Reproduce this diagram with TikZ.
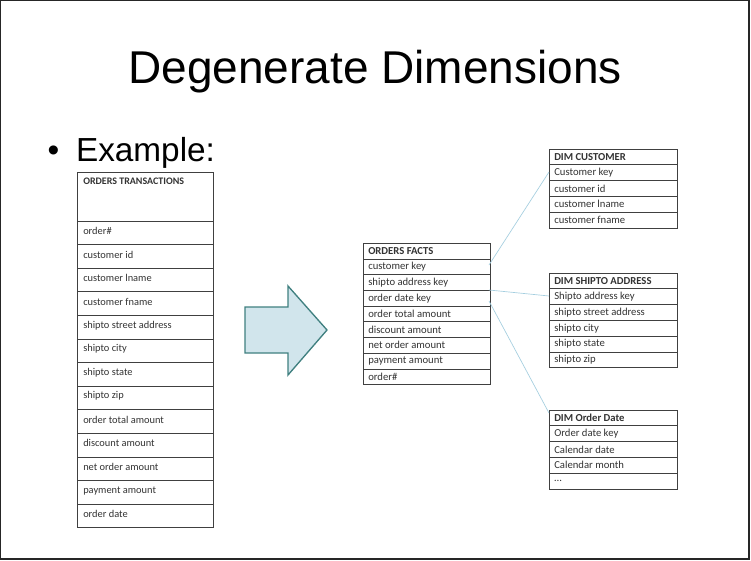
\documentclass[tikz,border=0pt]{standalone}
\usepackage{fontspec}
\setmainfont{Carlito}
\newfontfamily\titlefont{Liberation Sans}
\begin{document}
\begin{tikzpicture}[x=0.75pt,y=-0.75pt,
  cell/.style={draw=black!75,line width=0.6pt},
  txt/.style={anchor=west,inner sep=0pt,font=\fontsize{7.8}{8}\selectfont,text=black!80},
  hdr/.style={txt,font=\fontsize{7.5}{8}\selectfont\bfseries},
  link/.style={draw=cyan!40!teal!40,line width=0.5pt}]
\useasboundingbox (0,0) rectangle (751,561);
\fill[white] (0,0) rectangle (751,561);
\draw[black!85,line width=1.5pt] (0,0) rectangle (749,559);
\node[font=\titlefont\fontsize{34.5}{40}\selectfont] (title) at (375,72) {Degenerate Dimensions};
\node[font=\titlefont\fontsize{25}{28}\selectfont,anchor=west] (ex) at (43,153) {\textbullet\enspace Example:};
% left table
\draw[cell] (77,172) rectangle (213,221);
\node[hdr,anchor=north west] (lh) at (83,178) {ORDERS TRANSACTIONS};
\foreach \t [count=\i from 0] in {order\#,customer id,customer lname,customer fname,shipto street address,shipto city,shipto state,shipto zip,order total amount,discount amount,net order amount,payment amount,order date}{
  \draw[cell] (77,221+\i*23.6) rectangle (213,221+\i*23.6+23.6);
  \node[txt] (l\i) at (83,221+\i*23.6+10) {\t};
}
% facts
\foreach \t [count=\i from 0] in {customer key,shipto address key,order date key,order total amount,discount amount,net order amount,payment amount,order\#}{
  \draw[cell] (363,259+\i*15.7) rectangle (490,259+\i*15.7+15.7);
  \node[txt,font=\fontsize{8}{9}\selectfont] (f\i) at (368,259+\i*15.7+7.8) {\t};
}
\draw[cell] (363,243.3) rectangle (490,259);
\node[hdr,font=\fontsize{8}{9}\selectfont\bfseries] (fh) at (368,251.2) {ORDERS FACTS};
% dims
\def\dimtab#1#2#3#4{%
  \foreach \t [count=\i from 0] in {#3}{
    \draw[cell] (549,#2+\i*15.8) rectangle (677,#2+\i*15.8+15.8);
    \node[txt,font=\fontsize{8}{9}\selectfont] (#1\i) at (554,#2+\i*15.8+7.9) {\t};
  }
  \node[hdr,font=\fontsize{8}{9}\selectfont\bfseries] (#1h) at (554,#2+7.9) {#4};
}
\dimtab{c}{149}{{},Customer key,customer id,customer lname,customer fname}{DIM CUSTOMER}
\dimtab{s}{273}{{},Shipto address key,shipto street address,shipto city,shipto state,shipto zip}{DIM SHIPTO ADDRESS}
\dimtab{d}{410}{{},Order date key,Calendar date,Calendar month,\dots}{DIM Order Date}
% links
\coordinate (a1) at (489,265);
\coordinate (b1) at (549,172);
\coordinate (a2) at (489,290);
\coordinate (b2) at (549,296);
\coordinate (a3) at (489,301);
\coordinate (b3) at (549,413);
\draw[link] (a1) -- (b1);
\draw[link] (a2) -- (b2);
\draw[link] (a3) -- (b3);
% big arrow
\draw[fill=cyan!25!teal!20!white,draw=teal!50!gray,line width=1pt]
 (245,307) -- (288,307) -- (288,286) -- (327,330) -- (288,375) -- (288,353) -- (245,353) -- cycle;
\end{tikzpicture}
\end{document}
